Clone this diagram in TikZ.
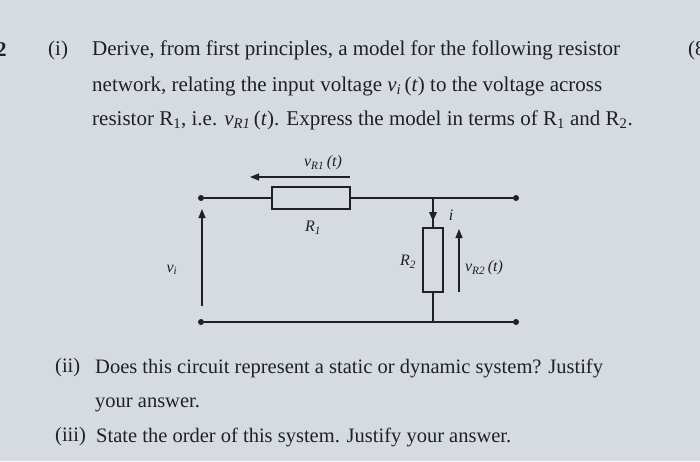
\documentclass[tikz,border=0pt]{standalone}
\usepackage{fontspec}
\setmainfont{Liberation Serif}
\usetikzlibrary{arrows.meta}
\definecolor{paper}{RGB}{214,219,226}
\definecolor{ink}{RGB}{30,32,38}
\begin{document}
\begin{tikzpicture}[x=1pt,y=-1pt,
  txt/.style={anchor=west,inner sep=0pt,text=ink,font=\fontsize{21}{23}\selectfont},
  txtb/.style={anchor=west,inner sep=0pt,text=ink,font=\fontsize{20.5}{23}\selectfont},
  lbl/.style={inner sep=0pt,text=ink,font=\fontsize{16}{18}\selectfont\itshape},
  wire/.style={draw=ink,line width=1.3pt},
  res/.style={draw=ink,line width=1.2pt,fill=paper,inner sep=0pt},
  term/.style={circle,fill=ink,inner sep=0pt,minimum size=6pt},
  varr/.style={draw=ink,line width=1.2pt,-{Triangle[length=9pt,width=7pt]}}]
\fill[paper] (0,0) rectangle (700,461);
\useasboundingbox (0,0) rectangle (700,461);
\node[txt,font=\fontsize{21}{23}\selectfont\bfseries] (q) at (-4,50) {2};
\node[txt] (i1) at (48,50) {(i)};
\node[txt] (l1) at (92,50) {Derive, from first principles, a model for the following resistor};
\node[txt] (m) at (688,50) {(8};
\node[txt] (l2) at (92,86) {network, relating the input voltage \textit{v\textsubscript{i}}\,(\textit{t}) to the voltage across};
\node[txt] (l3) at (92,120) {resistor R\textsubscript{1}, i.e. \textit{v\textsubscript{R1}}\,(\textit{t}). Express the model in terms of R\textsubscript{1} and R\textsubscript{2}.};
\node[txtb] (ii) at (55,368) {(ii)};
\node[txtb] (iit) at (95,368) {Does this circuit represent a static or dynamic system? Justify};
\node[txtb] (ii2) at (95,405) {your answer.};
\node[txtb] (iii) at (55,437) {(iii)};
\node[txtb] (iiit) at (96,437) {State the order of this system. Justify your answer.};
% circuit
\node[term] (a) at (201,198) {};
\node[term] (b) at (516,198) {};
\node[term] (c) at (201,322) {};
\node[term] (d) at (516,322) {};
\coordinate (j) at (433,198);
\coordinate (k) at (433,322);
\node[res,minimum width=78pt,minimum height=22pt] (r1) at (311,198) {};
\node[res,minimum width=20pt,minimum height=64pt] (r2) at (433,260) {};
\draw[wire] (a) -- (r1.west) (r1.east) -- (b);
\draw[wire] (c) -- (d);
\draw[wire] (j) -- (r2.north) (r2.south) -- (k);
\draw[draw=ink,-{Triangle[length=9pt,width=8pt]},line width=0pt] (433,207) -- (433,221);
\coordinate (vis) at (202,306); \coordinate (vie) at (202,209);
\draw[varr] (vis) -- (vie);
\coordinate (v2s) at (459,292); \coordinate (v2e) at (459,229);
\draw[varr] (v2s) -- (v2e);
\coordinate (v1s) at (350,177); \coordinate (v1e) at (250,177);
\draw[varr] (v1s) -- (v1e);
\node[lbl] (lv1) at (323,163) {v\textsubscript{R1}\,(t)};
\node[lbl] (lr1) at (313,228) {R\textsubscript{1}};
\node[lbl] (lr2) at (408,262) {R\textsubscript{2}};
\node[lbl] (li) at (451,215) {i};
\node[lbl] (lv2) at (484,268) {v\textsubscript{R2}\,(t)};
\node[lbl] (lvi) at (172,270) {v\textsubscript{i}};
\end{tikzpicture}
\end{document}
